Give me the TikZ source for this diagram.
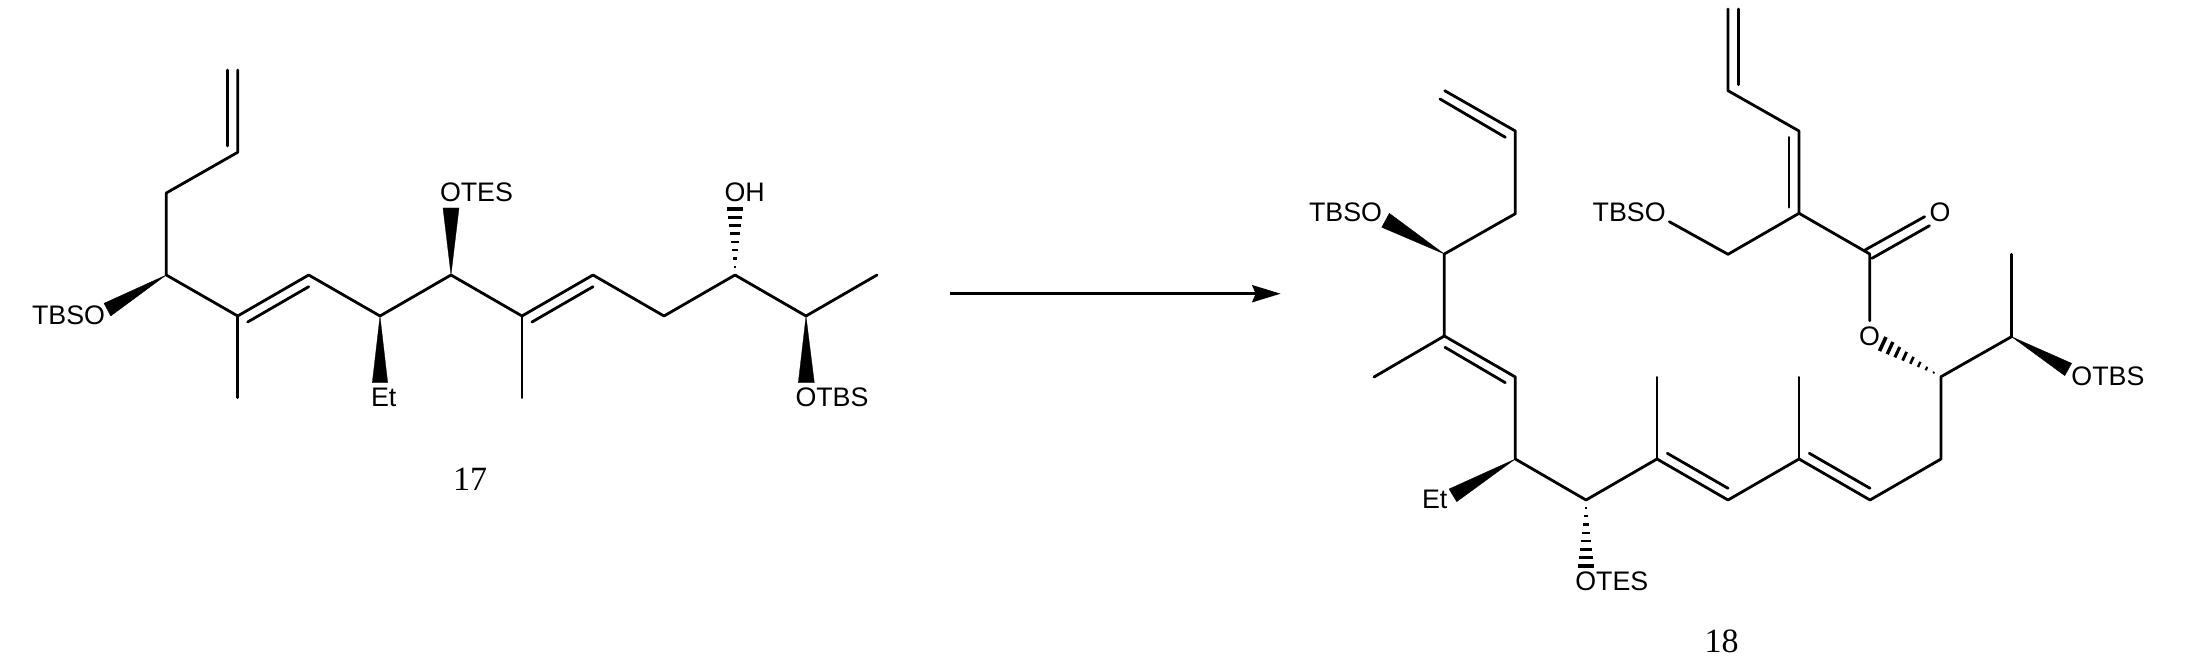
\documentclass[tikz,border=0pt]{standalone}
\usepackage{fontspec}
\setmainfont{Liberation Serif}
\setsansfont{Liberation Sans}
\usetikzlibrary{calc,arrows.meta}
\tikzset{
  bond/.style={line width=2.8pt,line cap=round,line join=round,black},
  lbl/.style={font=\sffamily\fontsize{26.8}{30}\selectfont,anchor=base west,inner sep=0pt,outer sep=0pt},
  cpd/.style={font=\rmfamily\fontsize{34}{38}\selectfont,anchor=base,inner sep=0pt,outer sep=0pt},
  wedge/.style={fill=black,draw=black,line width=0.3pt,line join=round},
  rxn/.style={line width=3pt,-{Stealth[length=28.5pt,width=17pt,inset=3.5pt]}}
}
% \hashwedge{tip}{base corner 1}{base corner 2}{count}
\newcommand{\hashwedge}[4]{%
  \foreach \k in {1,...,#4}{%
    \pgfmathsetmacro{\ff}{\k/#4}%
    \pgfmathsetmacro{\lw}{1.6+2.0*\ff}%
    \draw[line width=\lw pt] ($(#1)!\ff!(#2)$) -- ($(#1)!\ff!(#3)$);
  }}
\begin{document}
\begin{tikzpicture}[x=1pt,y=-1pt]
\useasboundingbox (0,0) rectangle (2194,668);

% ---------- compound 17 ----------
\coordinate (a1) at (237.7,70);
\coordinate (a1i) at (227.7,70);
\coordinate (a2) at (237.7,152.3);
\coordinate (a2i) at (227.7,146);
\coordinate (a3) at (166.3,193);
\coordinate (a4) at (166.3,275);
\coordinate (a5) at (237.7,316);
\coordinate (a5i) at (247.7,322);
\coordinate (a5m) at (237.7,397.7);
\coordinate (a6) at (308.7,275);
\coordinate (a6i) at (308.7,286.7);
\coordinate (a7) at (380,316);
\coordinate (a8) at (451,275);
\coordinate (a9) at (522,316);
\coordinate (a9i) at (532,322);
\coordinate (a9m) at (522,397.7);
\coordinate (a10) at (593,275);
\coordinate (a10i) at (593,286.7);
\coordinate (a11) at (664,316);
\coordinate (a12) at (735,275);
\coordinate (a13) at (806,316);
\coordinate (a14) at (877,275);

\draw[bond] (a1) -- (a2) -- (a3) -- (a4) -- (a5) -- (a6) -- (a7) -- (a8) -- (a9) -- (a10) -- (a11) -- (a12) -- (a13) -- (a14);
\draw[bond] (a1i) -- (a2i);
\draw[bond] (a5) -- (a5m);
\draw[bond] (a5i) -- (a6i);
\draw[bond] (a9) -- (a9m);
\draw[bond] (a9i) -- (a10i);

\node[lbl] (tbsoA) at (32,324) {TBSO};
\node[lbl] (otesA) at (440,202) {OTES};
\node[lbl] (ohA) at (724.5,201.7) {OH};
\node[lbl] (etA) at (371,406.7) {Et};
\node[lbl] (otbsA) at (795.5,406.7) {OTBS};
\node[cpd] (n17) at (470,490) {17};

\coordinate (w1a) at (104,303.3);
\coordinate (w1b) at (110.7,316);
\fill[wedge] (a4) -- (w1a) -- (w1b) -- cycle;
\coordinate (w2a) at (372.3,382.7);
\coordinate (w2b) at (387.7,382.7);
\fill[wedge] (a7) -- (w2a) -- (w2b) -- cycle;
\coordinate (w3a) at (443,208);
\coordinate (w3b) at (459,208);
\fill[wedge] (a8) -- (w3a) -- (w3b) -- cycle;
\coordinate (w4a) at (798.3,382.7);
\coordinate (w4b) at (814.3,382.7);
\fill[wedge] (a13) -- (w4a) -- (w4b) -- cycle;
\coordinate (h1a) at (727,209);
\coordinate (h1b) at (743,209);
\hashwedge{a12}{h1a}{h1b}{8}

% ---------- arrow ----------
\coordinate (ar1) at (950,293.7);
\coordinate (ar2) at (1280.7,293.7);
\draw[rxn] (ar1) -- (ar2);

% ---------- compound 18 ----------
\coordinate (b1) at (1444.7,90.7);
\coordinate (b1i) at (1440,99);
\coordinate (b2) at (1515.3,131);
\coordinate (b2i) at (1505.3,137.3);
\coordinate (b3) at (1515.3,213.7);
\coordinate (b4) at (1444.3,254);
\coordinate (b5) at (1444.3,336);
\coordinate (b5i) at (1445,347.3);
\coordinate (b5m) at (1374,377);
\coordinate (b6) at (1515.3,377);
\coordinate (b6i) at (1505.3,382.7);
\coordinate (b7) at (1515.3,459);
\coordinate (b8) at (1586,500);
\coordinate (b9) at (1657,459);
\coordinate (b9i) at (1667.3,453.3);
\coordinate (b9m) at (1657,377.3);
\coordinate (b10) at (1728,500);
\coordinate (b10i) at (1728,488.3);
\coordinate (b11) at (1799,459);
\coordinate (b11i) at (1809.3,453.3);
\coordinate (b11m) at (1799,377.3);
\coordinate (b12) at (1870,500);
\coordinate (b12i) at (1870,488.3);
\coordinate (b13) at (1941,459);
\coordinate (b14) at (1941,376.7);
\coordinate (b15) at (2011.5,336.7);
\coordinate (b15m) at (2011.5,254.3);

\draw[bond] (b1) -- (b2) -- (b3) -- (b4) -- (b5) -- (b6) -- (b7) -- (b8) -- (b9) -- (b10) -- (b11) -- (b12) -- (b13) -- (b14) -- (b15) -- (b15m);
\draw[bond] (b5) -- (b5m);
\draw[bond] (b1i) -- (b2i);
\draw[bond] (b5i) -- (b6i);
\draw[bond] (b9) -- (b9m);
\draw[bond] (b9i) -- (b10i);
\draw[bond] (b11) -- (b11m);
\draw[bond] (b11i) -- (b12i);

\coordinate (c1) at (1728,9);
\coordinate (c1i) at (1738.3,9);
\coordinate (c2) at (1728,90.7);
\coordinate (c2i) at (1738.3,84.7);
\coordinate (c3) at (1799,131);
\coordinate (c3i) at (1789,137.3);
\coordinate (c4) at (1799,213.3);
\coordinate (c4i) at (1789,207.3);
\coordinate (c5) at (1728,254.3);
\coordinate (c6) at (1669.3,221.7);
\coordinate (c7) at (1869.7,254);
\coordinate (c8) at (1869.7,320.7);
\coordinate (co1) at (1865,250);
\coordinate (co2) at (1924.6,216.7);
\coordinate (co3) at (1872,258.3);
\coordinate (co4) at (1929.5,225.7);

\draw[bond] (c1) -- (c2) -- (c3) -- (c4) -- (c5) -- (c6);
\draw[bond] (c4) -- (c7) -- (c8);
\draw[bond] (c1i) -- (c2i);
\draw[bond] (c3i) -- (c4i);
\draw[bond] (co1) -- (co2);
\draw[bond] (co3) -- (co4);

\node[lbl] (tbsoB) at (1309,222) {TBSO};
\node[lbl] (tbsoC) at (1592.7,222) {TBSO};
\node[lbl] (oC) at (1929.7,221.7) {O};
\node[lbl] (oE) at (1859,345) {O};
\node[lbl] (otbsB) at (2071.4,385.7) {OTBS};
\node[lbl] (etB) at (1422,508.3) {Et};
\node[lbl] (otesB) at (1575.3,590) {OTES};
\node[cpd] (n18) at (1721.5,652.5) {18};

\coordinate (w5a) at (1389.3,213.3);
\coordinate (w5b) at (1381.7,227.3);
\fill[wedge] (b4) -- (w5a) -- (w5b) -- cycle;
\coordinate (w6a) at (1449,489);
\coordinate (w6b) at (1456.7,501.7);
\fill[wedge] (b7) -- (w6a) -- (w6b) -- cycle;
\coordinate (w7a) at (2071.6,363.3);
\coordinate (w7b) at (2064.8,375.7);
\fill[wedge] (b15) -- (w7a) -- (w7b) -- cycle;
\coordinate (h2a) at (1578,565.7);
\coordinate (h2b) at (1594,565.7);
\hashwedge{b8}{h2a}{h2b}{8}
\coordinate (h3a) at (1879.5,351);
\coordinate (h3b) at (1886,337);
\hashwedge{b14}{h3a}{h3b}{8}
\end{tikzpicture}
\end{document}
